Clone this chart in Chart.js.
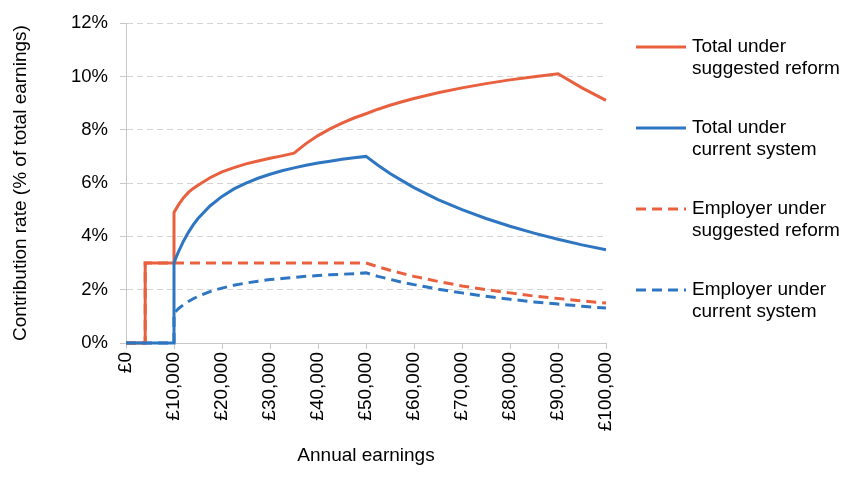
<!DOCTYPE html>
<html>
<head>
<meta charset="utf-8">
<script src="https://cdn.jsdelivr.net/npm/chart.js@4.4.0/dist/chart.umd.min.js"></script>
<style>
  body { margin: 0; background: #fff; font-family: "Liberation Sans", Arial, sans-serif; }
  #wrap { position: relative; width: 848px; height: 477px; }
  #chart { position: absolute; left: 0; top: 0; }
  .item { position: absolute; left: 636px; font-size: 19px; line-height: 22px; color: #000; }
  .item svg { position: absolute; left: 0; top: 10px; }
  .item span { position: absolute; left: 56px; top: 0; white-space: nowrap; }
</style>
</head>
<body>
<div id="wrap">
  <canvas id="chart" width="848" height="477"></canvas>
  <div id="legend"></div>
</div>
<script>
// earnings points (duplicated x = vertical jump)
const earnings = [0, 4000, 4000, 10000, 10000, 10500, 11000, 12000, 13000, 14000, 15000, 17500,
  20000, 22500, 25000, 27500, 30000, 32500, 35000, 37500, 40000, 42500, 45000, 47500, 50000,
  52500, 55000, 57500, 60000, 65000, 70000, 75000, 80000, 85000, 90000, 95000, 100000];

const totalReform = [0, 0, 3, 3, 4.9, 5.05, 5.2, 5.45, 5.65, 5.8, 5.92, 6.2,
  6.42, 6.58, 6.72, 6.83, 6.93, 7.02, 7.12, 7.48, 7.78, 8.03, 8.25, 8.44, 8.6,
  8.77, 8.92, 9.05, 9.17, 9.39, 9.57, 9.73, 9.87, 9.99, 10.1, 9.57, 9.1];

const totalCurrent = [0, 0, 0, 0, 3.0, 3.24, 3.45, 3.83, 4.15, 4.43, 4.67, 5.14,
  5.5, 5.78, 6.0, 6.18, 6.33, 6.46, 6.57, 6.67, 6.75, 6.82, 6.89, 6.95, 7.0,
  6.67, 6.36, 6.09, 5.83, 5.38, 5.0, 4.67, 4.38, 4.12, 3.89, 3.68, 3.5];

const employerReform = [0, 0, 3, 3, 3, 3, 3, 3, 3, 3, 3, 3,
  3, 3, 3, 3, 3, 3, 3, 3, 3, 3, 3, 3, 3,
  2.86, 2.73, 2.61, 2.5, 2.31, 2.14, 2.0, 1.88, 1.76, 1.67, 1.58, 1.5];

const employerCurrent = [0, 0, 0, 0, 1.13, 1.21, 1.3, 1.44, 1.56, 1.66, 1.75, 1.93,
  2.06, 2.17, 2.25, 2.32, 2.38, 2.42, 2.46, 2.5, 2.53, 2.56, 2.58, 2.6, 2.63,
  2.5, 2.39, 2.28, 2.19, 2.02, 1.88, 1.75, 1.64, 1.54, 1.46, 1.38, 1.31];

const legendLabels = [
  ['Total under', 'suggested reform'],
  ['Total under', 'current system'],
  ['Employer under', 'suggested reform'],
  ['Employer under', 'current system']
];

const orange = '#E9603E';
const blue = '#2E76C2';
const FONT = '"Liberation Sans", Arial, sans-serif';

function pts(values) {
  return values.map((v, i) => ({ x: earnings[i], y: v }));
}

const series = [
  { data: totalReform, color: orange, dash: [], order: 1 },
  { data: totalCurrent, color: blue, dash: [], order: 0 },
  { data: employerReform, color: orange, dash: [10, 6], order: 3 },
  { data: employerCurrent, color: blue, dash: [10, 6], order: 2 }
];

new Chart(document.getElementById('chart'), {
  type: 'line',
  data: {
    datasets: series.map((s, i) => ({
      label: legendLabels[i].join(' '),
      data: pts(s.data),
      borderColor: s.color,
      backgroundColor: s.color,
      borderWidth: 3,
      borderDash: s.dash,
      pointRadius: 0,
      tension: 0,
      clip: false,
      order: s.order
    }))
  },
  options: {
    responsive: false,
    animation: false,
    layout: { padding: { left: 0, top: 17, right: 242, bottom: 0 } },
    plugins: { legend: { display: false }, tooltip: { enabled: false } },
    scales: {
      x: {
        type: 'linear',
        min: 0,
        max: 100000,
        afterFit: (scale) => { scale.height = 134; },
        ticks: {
          stepSize: 10000,
          minRotation: 90,
          maxRotation: 90,
          padding: 3,
          color: '#000',
          font: { family: FONT, size: 19 },
          callback: (v) => '£' + v.toLocaleString('en-GB')
        },
        grid: { drawOnChartArea: false, tickLength: 6, color: '#c8c8c8' },
        border: { color: '#c8c8c8', width: 1 },
        title: {
          display: true,
          text: 'Annual earnings',
          color: '#000',
          font: { family: FONT, size: 19 },
          padding: { top: 4, bottom: 10 }
        }
      },
      y: {
        min: 0,
        max: 12,
        afterFit: (scale) => { scale.width = 126; },
        ticks: {
          stepSize: 2,
          padding: 12,
          color: '#000',
          font: { family: FONT, size: 18.5 },
          callback: (v) => v + '%'
        },
        grid: { color: '#d4d4d4', tickLength: 6, tickColor: '#c8c8c8', tickBorderDash: [] },
        border: { color: '#c8c8c8', width: 1, dash: [6, 4] },
        title: {
          display: true,
          text: 'Contribution rate (% of total earnings)',
          color: '#000',
          font: { family: FONT, size: 19 },
          padding: { top: 9, bottom: 0 }
        }
      }
    }
  }
});

// legend drawn as html text on the right
const legend = document.getElementById('legend');
const legendTops = [35, 116, 197, 278];
series.forEach((s, i) => {
  const item = document.createElement('div');
  item.className = 'item';
  item.style.top = legendTops[i] + 'px';
  const dash = s.dash.length ? ' stroke-dasharray="' + s.dash.join(',') + '"' : '';
  item.innerHTML =
    '<svg width="50" height="4"><line x1="0" y1="2" x2="50" y2="2" stroke="' + s.color +
    '" stroke-width="3"' + dash + '/></svg>' +
    '<span>' + legendLabels[i][0] + '<br>' + legendLabels[i][1] + '</span>';
  legend.appendChild(item);
});
</script>
</body>
</html>
